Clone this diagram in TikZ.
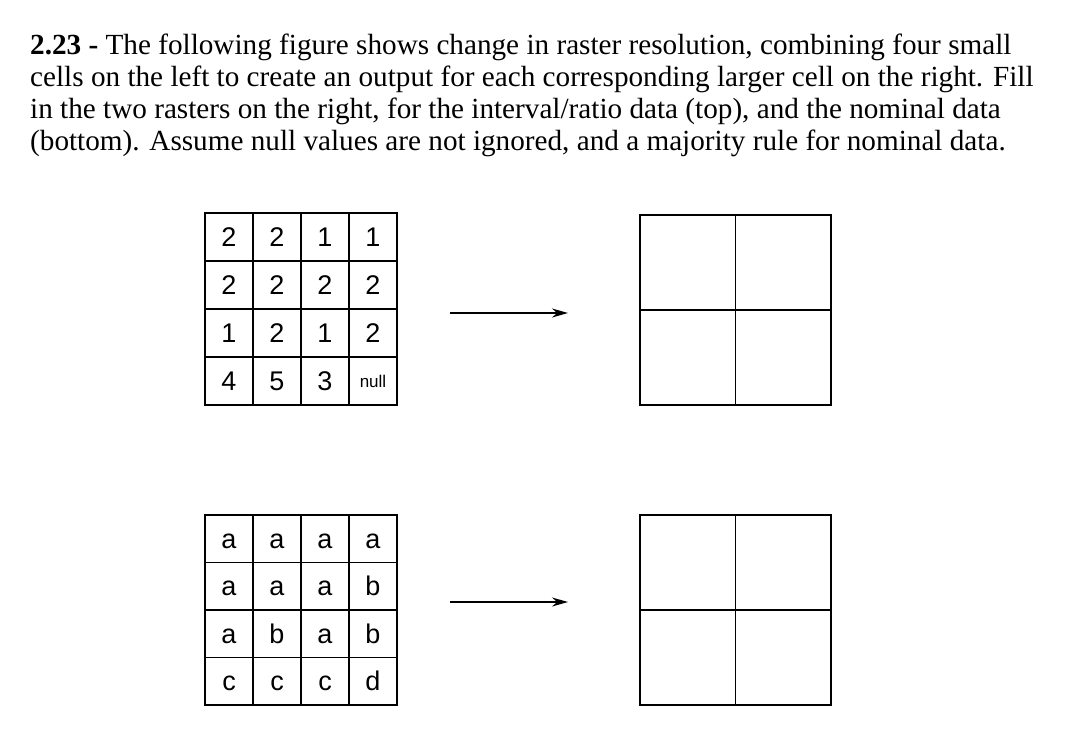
\documentclass[tikz,border=0pt]{standalone}
\usepackage{fontspec}
\setmainfont{Liberation Serif}
\newfontfamily\cellfont{Liberation Sans}
\usetikzlibrary{arrows.meta}
\begin{document}
\begin{tikzpicture}[x=1pt,y=-1pt,
  cell/.style={font=\cellfont\fontsize{27}{27}\selectfont,inner sep=0pt,anchor=center},
  gridline/.style={line width=1.8pt},
  arr/.style={line width=1.6pt,-{Stealth[length=16pt,width=9pt]}}]
\useasboundingbox (0,0) rectangle (1086,750);
\node[anchor=north west,align=left,inner sep=0pt,font=\fontsize{29.2}{32}\selectfont] (txt) at (30,34)
{\textbf{2.23 -} The following figure shows change in raster resolution, combining four small\\
cells on the left to create an output for each corresponding larger cell on the right. Fill\\
in the two rasters on the right, for the interval/ratio data (top), and the nominal data\\
(bottom). Assume null values are not ignored, and a majority rule for nominal data.};
% top left grid
\draw[gridline] (205,213) rectangle (397,405);
\foreach \i in {1,2,3}{
  \draw[gridline] (205+48*\i,213) -- (205+48*\i,405);
  \draw[gridline] (205,213+48*\i) -- (397,213+48*\i);}
\foreach \r/\row in {0/{2,2,1,1},1/{2,2,2,2},2/{1,2,1,2},3/{4,5,3}}{
  \foreach \v [count=\c from 0] in \row {
    \node[cell] (t\r\c) at (229+48*\c,237+48*\r) {\v};}}
\node[cell,font=\cellfont\fontsize{17}{17}\selectfont] (t33) at (373,381) {null};
% top right grid
\draw[gridline] (640,215) rectangle (831,405);
\draw[gridline] (735.5,215) -- (735.5,405);
\draw[gridline] (640,310) -- (831,310);
\coordinate (a1s) at (450,313); \coordinate (a1e) at (568,313);
\draw[arr] (a1s) -- (a1e);
% bottom left grid
\draw[gridline] (205,515) rectangle (397,705);
\foreach \i in {1,2,3}{
  \draw[gridline] (205+48*\i,515) -- (205+48*\i,705);
  \draw[gridline] (205,515+47.5*\i) -- (397,515+47.5*\i);}
\foreach \r/\row in {0/{a,a,a,a},1/{a,a,a,b},2/{a,b,a,b},3/{c,c,c,d}}{
  \foreach \v [count=\c from 0] in \row {
    \node[cell] (b\r\c) at (229+48*\c,538.75+47.5*\r) {\vphantom{b}\v};}}
% bottom right grid
\draw[gridline] (640,515) rectangle (831,705);
\draw[gridline] (735.5,515) -- (735.5,705);
\draw[gridline] (640,610) -- (831,610);
\coordinate (a2s) at (450,602); \coordinate (a2e) at (568,602);
\draw[arr] (a2s) -- (a2e);
\end{tikzpicture}
\end{document}
